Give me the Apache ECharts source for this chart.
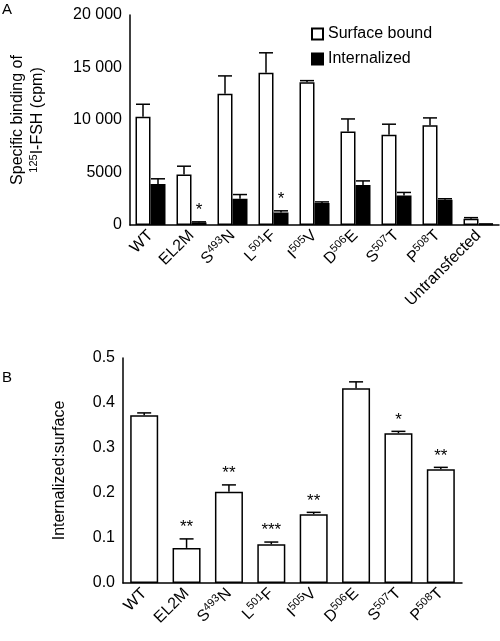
<!DOCTYPE html>
<html><head><meta charset="utf-8">
<script src="https://cdn.jsdelivr.net/npm/echarts@6/dist/echarts.min.js"></script>
<style>html,body{margin:0;padding:0;background:#fff}#c{width:500px;height:641px}</style>
</head><body><div id="c"></div>
<script>
const catsA = ['WT','EL2M','S{s|493}N','L{s|501}F','I{s|505}V','D{s|506}E','S{s|507}T','P{s|508}T','Untransfected'];
const surface = [10300,4800,12500,14500,13600,8900,8600,9500,600];
const surfaceErr = [1200,800,1700,1900,150,1200,1000,700,100];
const internal = [3900,250,2500,1200,2100,3800,2800,2400,80];
const internalErr = [500,50,400,150,100,400,300,100,20];
const internalSig = ['','*','','*','','','','',''];
const catsB = ['WT','EL2M','S{s|493}N','L{s|501}F','I{s|505}V','D{s|506}E','S{s|507}T','P{s|508}T'];
const ratio = [0.373,0.078,0.203,0.086,0.153,0.433,0.333,0.253];
const ratioErr = [0.005,0.02,0.015,0.005,0.004,0.014,0.004,0.004];
const ratioSig = ['','**','**','***','**','','*','**'];

const F = 'Liberation Sans, Arial, sans-serif';
const lab = {fontFamily:F,fontSize:16,color:'#000'};
const rich = {s:{fontFamily:F,fontSize:11,color:'#000',verticalAlign:'top',padding:[0,0,8,0]}};
function err(xi, yi, vals, errs, off, sig, bw){
  return {type:'custom', xAxisIndex:xi, yAxisIndex:yi, z:5,
    data: vals.map((v,i)=>[i,v,v+errs[i],sig?sig[i]:'']),
    renderItem:(p,api)=>{
      const lo=api.coord([api.value(0),api.value(1)]);
      const hi=api.coord([api.value(0),api.value(2)]);
      const x=lo[0]+off;
      const ch=[
        {type:'line',shape:{x1:x,y1:lo[1],x2:x,y2:hi[1]},style:{stroke:'#000',lineWidth:1.5}},
        {type:'line',shape:{x1:x-bw/2,y1:hi[1],x2:x+bw/2,y2:hi[1]},style:{stroke:'#000',lineWidth:1.5}}];
      const s=sig?sig[p.dataIndex]:'';
      if(s) ch.push({type:'text',style:{text:s,x:x,y:hi[1]-3,align:'center',verticalAlign:'bottom',font:'17px '+F,fill:'#000'}});
      return {type:'group',children:ch};
    }};
}
const chart = echarts.init(document.getElementById('c'));
const axisCommon = {axisLine:{lineStyle:{color:'#000',width:1.5}},axisTick:{lineStyle:{color:'#000',width:1.5},length:5},splitLine:{show:false}};
const xt = {axisTick:{alignWithLabel:true,length:6,lineStyle:{color:'#000',width:1.5}}};
chart.setOption({
  animation:false,
  graphic:[
    {type:'text',left:2,top:2,style:{text:'A',font:'15px '+F,fill:'#000'}},
    {type:'text',left:2,top:370,style:{text:'B',font:'15px '+F,fill:'#000'}}
  ],
  legend:{data:['Surface bound','Internalized'],orient:'vertical',left:306,top:21,itemWidth:11,itemHeight:11,itemGap:9,icon:'rect',
    textStyle:{fontFamily:F,fontSize:16,color:'#000'}},
  grid:[{left:123,top:15,right:1,height:210},{left:123,top:358,right:38,bottom:58}],
  xAxis:[
    Object.assign({type:'category',gridIndex:0,data:catsA,axisLabel:Object.assign({rotate:45,margin:8,interval:0,rich:rich},lab)},axisCommon,xt),
    Object.assign({type:'category',gridIndex:1,data:catsB,axisLabel:Object.assign({rotate:45,margin:8,interval:0,rich:rich},lab)},axisCommon,xt)
  ],
  yAxis:[
    Object.assign({type:'value',gridIndex:0,min:0,max:20000,interval:5000,
      name:'Specific binding of\n{s|125}I-FSH (cpm)',nameLocation:'middle',nameGap:82,nameRotate:90,
      nameTextStyle:Object.assign({lineHeight:20,rich:rich},lab),
      axisLabel:Object.assign({formatter:v=>v>=10000?String(v).replace(/(\d{3})$/,' $1'):String(v)},lab)},axisCommon,{axisLine:{show:true,lineStyle:{color:'#000',width:1.5}}}),
    Object.assign({type:'value',gridIndex:1,min:0,max:0.5,interval:0.1,
      name:'Internalized:surface',nameLocation:'middle',nameGap:55,nameTextStyle:lab,
      axisLabel:Object.assign({formatter:v=>v.toFixed(1)},lab)},axisCommon,{axisLine:{show:true,lineStyle:{color:'#000',width:1.5}}})
  ],
  series:[
    {name:'Surface bound',type:'bar',xAxisIndex:0,yAxisIndex:0,data:surface,barWidth:15,barGap:'0%',
      itemStyle:{color:'#fff',borderColor:'#000',borderWidth:1.5}},
    {name:'Internalized',type:'bar',xAxisIndex:0,yAxisIndex:0,data:internal,barWidth:15,barGap:'0%',
      itemStyle:{color:'#000',borderColor:'#000',borderWidth:1.5}},
    err(0,0,surface,surfaceErr,-7.5,null,14),
    err(0,0,internal,internalErr,7.5,internalSig,14),
    {type:'bar',xAxisIndex:1,yAxisIndex:1,data:ratio,barWidth:28,
      itemStyle:{color:'#fff',borderColor:'#000',borderWidth:1.5}},
    err(1,1,ratio,ratioErr,0,ratioSig,14)
  ]
});
</script></body></html>
